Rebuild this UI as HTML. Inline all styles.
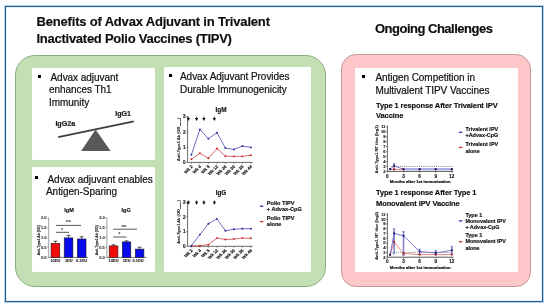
<!DOCTYPE html>
<html><head><meta charset="utf-8">
<style>
*{margin:0;padding:0;box-sizing:border-box}
html,body{width:550px;height:307px;overflow:hidden;background:#fff}
body{position:relative;font-family:"Liberation Sans",Arial,sans-serif;color:#111}
.abs{position:absolute}
#outer{left:5px;top:6px;width:538px;height:296px;border:1px solid #2e5d87;box-shadow:0 0 0 1px rgba(105,170,228,0.55),inset 0 0 0 1px rgba(150,200,240,0.3)}
.title{position:absolute;font-weight:bold;font-size:13px;line-height:16.7px;letter-spacing:-0.18px;white-space:nowrap;color:#0d0d0d;-webkit-text-stroke:0.15px #0d0d0d}
#green{left:15.3px;top:54.6px;width:310.7px;height:232.2px;background:#c5dfb4;border:1px solid #8aae82;border-radius:20px}
#red{left:341.3px;top:54.2px;width:189.8px;height:232.4px;background:#fec8ca;border:1px solid #c4979a;border-radius:15px}
.panel{position:absolute;background:#fff;border-radius:1.5px}
.btxt{position:absolute;font-size:10px;line-height:12.5px;letter-spacing:-0.05px;white-space:nowrap;color:#111;-webkit-text-stroke:0.2px #111}
.bul{position:absolute;width:3px;height:3px;background:#000}
.sub{position:absolute;font-weight:bold;font-size:7.5px;line-height:10.2px;letter-spacing:-0.1px;white-space:nowrap;color:#0d0d0d;-webkit-text-stroke:0.15px #0d0d0d}
svg{position:absolute;overflow:visible}
</style></head><body>
<div id="outer" class="abs"></div>
<div class="title" style="left:36.5px;top:14px">Benefits of Advax Adjuvant in Trivalent<br><span style="letter-spacing:-0.26px">Inactivated Polio Vaccines (TIPV)</span></div>
<div class="title" style="left:375px;top:21.4px;letter-spacing:-0.5px">Ongoing Challenges</div>

<div id="green" class="abs"></div>
<div id="red" class="abs"></div>

<div class="panel" style="left:31.7px;top:67.6px;width:123.8px;height:92.2px"></div>
<div class="panel" style="left:31.7px;top:167.4px;width:123.8px;height:104.6px"></div>
<div class="panel" style="left:163.8px;top:67.4px;width:147.3px;height:204.6px"></div>
<div class="panel" style="left:355.2px;top:67.6px;width:163.2px;height:204.4px"></div>

<!-- panel 1 -->
<div class="bul" style="left:37.6px;top:74.7px"></div>
<div class="btxt" style="left:50.5px;top:72px">Advax adjuvant</div>
<div class="btxt" style="left:49px;top:84px">enhances Th1<br>Immunity</div>

<!-- panel 2 -->
<div class="bul" style="left:35.2px;top:176.2px"></div>
<div class="btxt" style="left:47.5px;top:173.6px">Advax adjuvant enables<br><span style="margin-left:-1.5px">Antigen-Sparing</span></div>

<!-- panel 3 -->
<div class="bul" style="left:169.2px;top:74.3px"></div>
<div class="btxt" style="left:180px;top:71px">Advax Adjuvant Provides<br>Durable Immunogenicity</div>

<!-- red panel -->
<div class="bul" style="left:362px;top:75.1px"></div>
<div class="btxt" style="left:375.4px;top:72px;line-height:12.7px">Antigen Competition in<br>Multivalent TIPV Vaccines</div>
<div class="sub" style="left:376px;top:100.5px">Type 1 response After Trivalent IPV<br>Vaccine</div>
<div class="sub" style="left:376px;top:188.4px">Type 1 response After Type 1<br>Monovalent IPV Vaccine</div>

<svg width="550" height="307" viewBox="0 0 550 307" style="left:0;top:0;font-family:'Liberation Sans',Arial,sans-serif">
<line x1="58.2" y1="137.2" x2="133.8" y2="121.4" stroke="#3f3f3f" stroke-width="1.8" />
<polygon points="95.6,129.6 81.1,151 110.6,151" fill="#595959"/>
<text x="55.4" y="126.1" font-size="7.1" font-weight="bold" text-anchor="start" fill="#1a1a1a"  stroke="#1a1a1a" stroke-width="0.2">IgG2a</text>
<text x="115.3" y="115.7" font-size="7.1" font-weight="bold" text-anchor="start" fill="#1a1a1a"  stroke="#1a1a1a" stroke-width="0.2">IgG1</text>
<text x="69" y="211.9" font-size="5.5" font-weight="bold" text-anchor="middle" fill="#111"  stroke="#111" stroke-width="0.15">IgM</text>
<line x1="48.7" y1="217.6" x2="48.7" y2="257.4" stroke="#8a8a8a" stroke-width="0.8" />
<line x1="47.1" y1="257.4" x2="48.7" y2="257.4" stroke="#777" stroke-width="0.6" />
<text x="46.6" y="258.85" font-size="4.0" font-weight="bold" text-anchor="end" fill="#333" stroke="#333" stroke-width="0.1">0.0</text>
<line x1="47.1" y1="247.55" x2="48.7" y2="247.55" stroke="#777" stroke-width="0.6" />
<text x="46.6" y="249" font-size="4.0" font-weight="bold" text-anchor="end" fill="#333" stroke="#333" stroke-width="0.1">0.5</text>
<line x1="47.1" y1="237.7" x2="48.7" y2="237.7" stroke="#777" stroke-width="0.6" />
<text x="46.6" y="239.15" font-size="4.0" font-weight="bold" text-anchor="end" fill="#333" stroke="#333" stroke-width="0.1">1.0</text>
<line x1="47.1" y1="227.85" x2="48.7" y2="227.85" stroke="#777" stroke-width="0.6" />
<text x="46.6" y="229.3" font-size="4.0" font-weight="bold" text-anchor="end" fill="#333" stroke="#333" stroke-width="0.1">1.5</text>
<line x1="47.1" y1="218" x2="48.7" y2="218" stroke="#777" stroke-width="0.6" />
<text x="46.6" y="219.45" font-size="4.0" font-weight="bold" text-anchor="end" fill="#333" stroke="#333" stroke-width="0.1">2.0</text>
<line x1="48.7" y1="257.4" x2="88.2" y2="257.4" stroke="#666" stroke-width="0.9" />
<line x1="55.45" y1="243.4" x2="55.45" y2="241.2" stroke="#222" stroke-width="0.7" />
<line x1="53.55" y1="241.2" x2="57.35" y2="241.2" stroke="#222" stroke-width="0.8" />
<rect x="51.1" y="243.4" width="8.7" height="14" fill="#f50a0a" stroke="#1a1a1a" stroke-width="0.6"/>
<line x1="68.55" y1="237.9" x2="68.55" y2="235.4" stroke="#222" stroke-width="0.7" />
<line x1="66.65" y1="235.4" x2="70.45" y2="235.4" stroke="#222" stroke-width="0.8" />
<rect x="64.2" y="237.9" width="8.7" height="19.5" fill="#0a0aee" stroke="#1a1a1a" stroke-width="0.6"/>
<line x1="81.65" y1="239" x2="81.65" y2="236.8" stroke="#222" stroke-width="0.7" />
<line x1="79.75" y1="236.8" x2="83.55" y2="236.8" stroke="#222" stroke-width="0.8" />
<rect x="77.3" y="239" width="8.7" height="18.4" fill="#0a0aee" stroke="#1a1a1a" stroke-width="0.6"/>
<line x1="56" y1="225.4" x2="81.1" y2="225.4" stroke="#444" stroke-width="0.9" />
<text x="68.5" y="222.4" font-size="4.2" font-weight="bold" text-anchor="middle" fill="#444"  stroke="#444" stroke-width="0.1">ns</text>
<line x1="56" y1="232.3" x2="69.1" y2="232.3" stroke="#444" stroke-width="0.9" />
<text x="62.2" y="232.1" font-size="4.5" font-weight="bold" text-anchor="middle" fill="#444"  stroke="#444" stroke-width="0.1">*</text>
<text x="55.4" y="262.1" font-size="3.9" font-weight="bold" text-anchor="middle" fill="#222" stroke="#222" stroke-width="0.1">10DU</text>
<text x="68.8" y="262.1" font-size="3.9" font-weight="bold" text-anchor="middle" fill="#222" stroke="#222" stroke-width="0.1">1DU</text>
<text x="81.6" y="262.1" font-size="3.9" font-weight="bold" text-anchor="middle" fill="#222" stroke="#222" stroke-width="0.1">0.1DU</text>
<text transform="translate(40.4,240.2) rotate(-90)" font-size="3.3" font-weight="bold" text-anchor="middle" fill="#222" stroke="#222" stroke-width="0.12">Anti-Type1 Ab (OD)</text>
<text x="126.1" y="211.9" font-size="5.5" font-weight="bold" text-anchor="middle" fill="#111"  stroke="#111" stroke-width="0.15">IgG</text>
<line x1="106.9" y1="217.6" x2="106.9" y2="257.4" stroke="#8a8a8a" stroke-width="0.8" />
<line x1="105.3" y1="257.4" x2="106.9" y2="257.4" stroke="#777" stroke-width="0.6" />
<text x="104.8" y="258.85" font-size="4.0" font-weight="bold" text-anchor="end" fill="#333" stroke="#333" stroke-width="0.1">0.0</text>
<line x1="105.3" y1="247.55" x2="106.9" y2="247.55" stroke="#777" stroke-width="0.6" />
<text x="104.8" y="249" font-size="4.0" font-weight="bold" text-anchor="end" fill="#333" stroke="#333" stroke-width="0.1">0.5</text>
<line x1="105.3" y1="237.7" x2="106.9" y2="237.7" stroke="#777" stroke-width="0.6" />
<text x="104.8" y="239.15" font-size="4.0" font-weight="bold" text-anchor="end" fill="#333" stroke="#333" stroke-width="0.1">1.0</text>
<line x1="105.3" y1="227.85" x2="106.9" y2="227.85" stroke="#777" stroke-width="0.6" />
<text x="104.8" y="229.3" font-size="4.0" font-weight="bold" text-anchor="end" fill="#333" stroke="#333" stroke-width="0.1">1.5</text>
<line x1="105.3" y1="218" x2="106.9" y2="218" stroke="#777" stroke-width="0.6" />
<text x="104.8" y="219.45" font-size="4.0" font-weight="bold" text-anchor="end" fill="#333" stroke="#333" stroke-width="0.1">2.0</text>
<line x1="106.9" y1="257.4" x2="146.4" y2="257.4" stroke="#666" stroke-width="0.9" />
<line x1="113.55" y1="245.9" x2="113.55" y2="244.8" stroke="#222" stroke-width="0.7" />
<line x1="111.65" y1="244.8" x2="115.45" y2="244.8" stroke="#222" stroke-width="0.8" />
<rect x="109.2" y="245.9" width="8.7" height="11.5" fill="#f50a0a" stroke="#1a1a1a" stroke-width="0.6"/>
<line x1="126.55" y1="241.9" x2="126.55" y2="240.9" stroke="#222" stroke-width="0.7" />
<line x1="124.65" y1="240.9" x2="128.45" y2="240.9" stroke="#222" stroke-width="0.8" />
<rect x="122.3" y="241.9" width="8.5" height="15.5" fill="#0a0aee" stroke="#1a1a1a" stroke-width="0.6"/>
<line x1="139.6" y1="249.1" x2="139.6" y2="247.2" stroke="#222" stroke-width="0.7" />
<line x1="137.7" y1="247.2" x2="141.5" y2="247.2" stroke="#222" stroke-width="0.8" />
<rect x="135.3" y="249.1" width="8.6" height="8.3" fill="#0a0aee" stroke="#1a1a1a" stroke-width="0.6"/>
<line x1="113.3" y1="229.2" x2="137" y2="229.2" stroke="#444" stroke-width="0.9" />
<text x="123.9" y="227.3" font-size="4.2" font-weight="bold" text-anchor="middle" fill="#444"  stroke="#444" stroke-width="0.1">ns</text>
<line x1="113.3" y1="237" x2="126.6" y2="237" stroke="#444" stroke-width="0.9" />
<text x="119.5" y="235.6" font-size="4.5" font-weight="bold" text-anchor="middle" fill="#444"  stroke="#444" stroke-width="0.1">*</text>
<text x="113.5" y="262.1" font-size="3.9" font-weight="bold" text-anchor="middle" fill="#222" stroke="#222" stroke-width="0.1">10DU</text>
<text x="126.6" y="262.1" font-size="3.9" font-weight="bold" text-anchor="middle" fill="#222" stroke="#222" stroke-width="0.1">1DU</text>
<text x="138.1" y="262.1" font-size="3.9" font-weight="bold" text-anchor="middle" fill="#222" stroke="#222" stroke-width="0.1">0.1DU</text>
<text transform="translate(98,240.2) rotate(-90)" font-size="3.3" font-weight="bold" text-anchor="middle" fill="#222" stroke="#222" stroke-width="0.12">Anti-Type1 Ab (OD)</text>
<text x="221" y="111.5" font-size="6.4" font-weight="bold" text-anchor="middle" fill="#111" stroke="#111" stroke-width="0.15">IgM</text>
<line x1="187.6" y1="116.3" x2="187.6" y2="162.4" stroke="#444" stroke-width="0.8" />
<line x1="186.1" y1="162.4" x2="187.6" y2="162.4" stroke="#444" stroke-width="0.6" />
<text x="185.6" y="164" font-size="4.6" font-weight="bold" text-anchor="end" fill="#1a1a1a"  stroke="#1a1a1a" stroke-width="0.15">0</text>
<line x1="186.1" y1="147.2" x2="187.6" y2="147.2" stroke="#444" stroke-width="0.6" />
<text x="185.6" y="148.8" font-size="4.6" font-weight="bold" text-anchor="end" fill="#1a1a1a"  stroke="#1a1a1a" stroke-width="0.15">1</text>
<line x1="186.1" y1="132" x2="187.6" y2="132" stroke="#444" stroke-width="0.6" />
<text x="185.6" y="133.6" font-size="4.6" font-weight="bold" text-anchor="end" fill="#1a1a1a"  stroke="#1a1a1a" stroke-width="0.15">2</text>
<line x1="186.1" y1="116.8" x2="187.6" y2="116.8" stroke="#444" stroke-width="0.6" />
<text x="185.6" y="118.4" font-size="4.6" font-weight="bold" text-anchor="end" fill="#1a1a1a"  stroke="#1a1a1a" stroke-width="0.15">3</text>
<line x1="187.6" y1="162.4" x2="252.6" y2="162.4" stroke="#444" stroke-width="0.8" />
<line x1="191.4" y1="162.4" x2="191.4" y2="163.8" stroke="#444" stroke-width="0.6" />
<line x1="199.9" y1="162.4" x2="199.9" y2="163.8" stroke="#444" stroke-width="0.6" />
<line x1="208.4" y1="162.4" x2="208.4" y2="163.8" stroke="#444" stroke-width="0.6" />
<line x1="216.9" y1="162.4" x2="216.9" y2="163.8" stroke="#444" stroke-width="0.6" />
<line x1="225.4" y1="162.4" x2="225.4" y2="163.8" stroke="#444" stroke-width="0.6" />
<line x1="233.9" y1="162.4" x2="233.9" y2="163.8" stroke="#444" stroke-width="0.6" />
<line x1="242.4" y1="162.4" x2="242.4" y2="163.8" stroke="#444" stroke-width="0.6" />
<line x1="250.9" y1="162.4" x2="250.9" y2="163.8" stroke="#444" stroke-width="0.6" />
<text transform="translate(193,166.8) rotate(-45)" font-size="4.3" font-weight="bold" text-anchor="end" fill="#1a1a1a" stroke="#1a1a1a" stroke-width="0.15">Wk 2</text>
<text transform="translate(201.5,166.8) rotate(-45)" font-size="4.3" font-weight="bold" text-anchor="end" fill="#1a1a1a" stroke="#1a1a1a" stroke-width="0.15">Wk 4</text>
<text transform="translate(210,166.8) rotate(-45)" font-size="4.3" font-weight="bold" text-anchor="end" fill="#1a1a1a" stroke="#1a1a1a" stroke-width="0.15">Wk 8</text>
<text transform="translate(218.5,166.8) rotate(-45)" font-size="4.3" font-weight="bold" text-anchor="end" fill="#1a1a1a" stroke="#1a1a1a" stroke-width="0.15">Wk 12</text>
<text transform="translate(227,166.8) rotate(-45)" font-size="4.3" font-weight="bold" text-anchor="end" fill="#1a1a1a" stroke="#1a1a1a" stroke-width="0.15">Wk 26</text>
<text transform="translate(235.5,166.8) rotate(-45)" font-size="4.3" font-weight="bold" text-anchor="end" fill="#1a1a1a" stroke="#1a1a1a" stroke-width="0.15">Wk 30</text>
<text transform="translate(244,166.8) rotate(-45)" font-size="4.3" font-weight="bold" text-anchor="end" fill="#1a1a1a" stroke="#1a1a1a" stroke-width="0.15">Wk 35</text>
<text transform="translate(252.5,166.8) rotate(-45)" font-size="4.3" font-weight="bold" text-anchor="end" fill="#1a1a1a" stroke="#1a1a1a" stroke-width="0.15">Wk 44</text>
<polyline points="191.4,159.3 199.9,153.2 208.4,158.3 216.9,148.5 225.4,156.2 233.9,156.4 242.4,156.4 250.9,155.2" fill="none" stroke="#cc3a3a" stroke-width="0.75"/>
<circle cx="191.4" cy="159.3" r="0.95" fill="#cc2222"/>
<circle cx="199.9" cy="153.2" r="0.95" fill="#cc2222"/>
<circle cx="208.4" cy="158.3" r="0.95" fill="#cc2222"/>
<circle cx="216.9" cy="148.5" r="0.95" fill="#cc2222"/>
<circle cx="225.4" cy="156.2" r="0.95" fill="#cc2222"/>
<circle cx="233.9" cy="156.4" r="0.95" fill="#cc2222"/>
<circle cx="242.4" cy="156.4" r="0.95" fill="#cc2222"/>
<circle cx="250.9" cy="155.2" r="0.95" fill="#cc2222"/>
<polyline points="191.4,154.8 199.9,129.4 208.4,138.7 216.9,132.7 225.4,148 233.9,149.5 242.4,146 250.9,147.4" fill="none" stroke="#3c3cb8" stroke-width="0.75"/>
<circle cx="191.4" cy="154.8" r="0.95" fill="#2a2a9a"/>
<circle cx="199.9" cy="129.4" r="0.95" fill="#2a2a9a"/>
<circle cx="208.4" cy="138.7" r="0.95" fill="#2a2a9a"/>
<circle cx="216.9" cy="132.7" r="0.95" fill="#2a2a9a"/>
<circle cx="225.4" cy="148" r="0.95" fill="#2a2a9a"/>
<circle cx="233.9" cy="149.5" r="0.95" fill="#2a2a9a"/>
<circle cx="242.4" cy="146" r="0.95" fill="#2a2a9a"/>
<circle cx="250.9" cy="147.4" r="0.95" fill="#2a2a9a"/>
<line x1="188.4" y1="116.6" x2="188.4" y2="119.1" stroke="#111" stroke-width="0.8" />
<polygon points="186.7,118 190.1,118 188.4,121" fill="#111"/>
<line x1="196.6" y1="116.6" x2="196.6" y2="119.1" stroke="#111" stroke-width="0.8" />
<polygon points="194.9,118 198.3,118 196.6,121" fill="#111"/>
<line x1="203.9" y1="116.6" x2="203.9" y2="119.1" stroke="#111" stroke-width="0.8" />
<polygon points="202.2,118 205.6,118 203.9,121" fill="#111"/>
<line x1="214.4" y1="116.6" x2="214.4" y2="119.1" stroke="#111" stroke-width="0.8" />
<polygon points="212.7,118 216.1,118 214.4,121" fill="#111"/>
<text transform="translate(180.0,139.4) rotate(-90)" font-size="3.95" font-weight="bold" text-anchor="middle" fill="#222" stroke="#222" stroke-width="0.1">Anti-Type1 Ab (OD<tspan font-size="2.4" dy="0.8">405nm</tspan><tspan dy="-0.8">)</tspan></text>
<text x="221" y="195.3" font-size="6.4" font-weight="bold" text-anchor="middle" fill="#111" stroke="#111" stroke-width="0.15">IgG</text>
<line x1="187.6" y1="201.7" x2="187.6" y2="246.3" stroke="#444" stroke-width="0.8" />
<line x1="186.1" y1="246.3" x2="187.6" y2="246.3" stroke="#444" stroke-width="0.6" />
<text x="185.6" y="247.9" font-size="4.6" font-weight="bold" text-anchor="end" fill="#1a1a1a"  stroke="#1a1a1a" stroke-width="0.15">0</text>
<line x1="186.1" y1="231.6" x2="187.6" y2="231.6" stroke="#444" stroke-width="0.6" />
<text x="185.6" y="233.2" font-size="4.6" font-weight="bold" text-anchor="end" fill="#1a1a1a"  stroke="#1a1a1a" stroke-width="0.15">1</text>
<line x1="186.1" y1="216.9" x2="187.6" y2="216.9" stroke="#444" stroke-width="0.6" />
<text x="185.6" y="218.5" font-size="4.6" font-weight="bold" text-anchor="end" fill="#1a1a1a"  stroke="#1a1a1a" stroke-width="0.15">2</text>
<line x1="186.1" y1="202.2" x2="187.6" y2="202.2" stroke="#444" stroke-width="0.6" />
<text x="185.6" y="203.8" font-size="4.6" font-weight="bold" text-anchor="end" fill="#1a1a1a"  stroke="#1a1a1a" stroke-width="0.15">3</text>
<line x1="187.6" y1="246.3" x2="252.6" y2="246.3" stroke="#444" stroke-width="0.8" />
<line x1="191.4" y1="246.3" x2="191.4" y2="247.7" stroke="#444" stroke-width="0.6" />
<line x1="199.9" y1="246.3" x2="199.9" y2="247.7" stroke="#444" stroke-width="0.6" />
<line x1="208.4" y1="246.3" x2="208.4" y2="247.7" stroke="#444" stroke-width="0.6" />
<line x1="216.9" y1="246.3" x2="216.9" y2="247.7" stroke="#444" stroke-width="0.6" />
<line x1="225.4" y1="246.3" x2="225.4" y2="247.7" stroke="#444" stroke-width="0.6" />
<line x1="233.9" y1="246.3" x2="233.9" y2="247.7" stroke="#444" stroke-width="0.6" />
<line x1="242.4" y1="246.3" x2="242.4" y2="247.7" stroke="#444" stroke-width="0.6" />
<line x1="250.9" y1="246.3" x2="250.9" y2="247.7" stroke="#444" stroke-width="0.6" />
<text transform="translate(193,250.7) rotate(-45)" font-size="4.3" font-weight="bold" text-anchor="end" fill="#1a1a1a" stroke="#1a1a1a" stroke-width="0.15">Wk 2</text>
<text transform="translate(201.5,250.7) rotate(-45)" font-size="4.3" font-weight="bold" text-anchor="end" fill="#1a1a1a" stroke="#1a1a1a" stroke-width="0.15">Wk 4</text>
<text transform="translate(210,250.7) rotate(-45)" font-size="4.3" font-weight="bold" text-anchor="end" fill="#1a1a1a" stroke="#1a1a1a" stroke-width="0.15">Wk 8</text>
<text transform="translate(218.5,250.7) rotate(-45)" font-size="4.3" font-weight="bold" text-anchor="end" fill="#1a1a1a" stroke="#1a1a1a" stroke-width="0.15">Wk 12</text>
<text transform="translate(227,250.7) rotate(-45)" font-size="4.3" font-weight="bold" text-anchor="end" fill="#1a1a1a" stroke="#1a1a1a" stroke-width="0.15">Wk 26</text>
<text transform="translate(235.5,250.7) rotate(-45)" font-size="4.3" font-weight="bold" text-anchor="end" fill="#1a1a1a" stroke="#1a1a1a" stroke-width="0.15">Wk 30</text>
<text transform="translate(244,250.7) rotate(-45)" font-size="4.3" font-weight="bold" text-anchor="end" fill="#1a1a1a" stroke="#1a1a1a" stroke-width="0.15">Wk 35</text>
<text transform="translate(252.5,250.7) rotate(-45)" font-size="4.3" font-weight="bold" text-anchor="end" fill="#1a1a1a" stroke="#1a1a1a" stroke-width="0.15">Wk 44</text>
<polyline points="191.4,246 199.9,245.7 208.4,244.7 216.9,238.1 225.4,239.5 233.9,239.1 242.4,238.1 250.9,238.3" fill="none" stroke="#cc3a3a" stroke-width="0.75"/>
<circle cx="191.4" cy="246" r="0.95" fill="#cc2222"/>
<circle cx="199.9" cy="245.7" r="0.95" fill="#cc2222"/>
<circle cx="208.4" cy="244.7" r="0.95" fill="#cc2222"/>
<circle cx="216.9" cy="238.1" r="0.95" fill="#cc2222"/>
<circle cx="225.4" cy="239.5" r="0.95" fill="#cc2222"/>
<circle cx="233.9" cy="239.1" r="0.95" fill="#cc2222"/>
<circle cx="242.4" cy="238.1" r="0.95" fill="#cc2222"/>
<circle cx="250.9" cy="238.3" r="0.95" fill="#cc2222"/>
<polyline points="191.4,245.7 199.9,234.6 208.4,223.8 216.9,218.9 225.4,230.7 233.9,229.3 242.4,228.7 250.9,228.7" fill="none" stroke="#3c3cb8" stroke-width="0.75"/>
<circle cx="191.4" cy="245.7" r="0.95" fill="#2a2a9a"/>
<circle cx="199.9" cy="234.6" r="0.95" fill="#2a2a9a"/>
<circle cx="208.4" cy="223.8" r="0.95" fill="#2a2a9a"/>
<circle cx="216.9" cy="218.9" r="0.95" fill="#2a2a9a"/>
<circle cx="225.4" cy="230.7" r="0.95" fill="#2a2a9a"/>
<circle cx="233.9" cy="229.3" r="0.95" fill="#2a2a9a"/>
<circle cx="242.4" cy="228.7" r="0.95" fill="#2a2a9a"/>
<circle cx="250.9" cy="228.7" r="0.95" fill="#2a2a9a"/>
<line x1="188.4" y1="200.4" x2="188.4" y2="202.9" stroke="#111" stroke-width="0.8" />
<polygon points="186.7,201.8 190.1,201.8 188.4,204.8" fill="#111"/>
<line x1="196.6" y1="200.4" x2="196.6" y2="202.9" stroke="#111" stroke-width="0.8" />
<polygon points="194.9,201.8 198.3,201.8 196.6,204.8" fill="#111"/>
<line x1="203.9" y1="200.4" x2="203.9" y2="202.9" stroke="#111" stroke-width="0.8" />
<polygon points="202.2,201.8 205.6,201.8 203.9,204.8" fill="#111"/>
<line x1="214.4" y1="200.4" x2="214.4" y2="202.9" stroke="#111" stroke-width="0.8" />
<polygon points="212.7,201.8 216.1,201.8 214.4,204.8" fill="#111"/>
<text transform="translate(180.0,222) rotate(-90)" font-size="3.95" font-weight="bold" text-anchor="middle" fill="#222" stroke="#222" stroke-width="0.1">Anti-Type1 Ab (OD<tspan font-size="2.4" dy="0.8">405nm</tspan><tspan dy="-0.8">)</tspan></text>
<line x1="259.6" y1="206.2" x2="263.6" y2="206.2" stroke="#3c3cb8" stroke-width="0.8" />
<circle cx="261.6" cy="206.2" r="0.9" fill="#2a2a9a"/>
<line x1="259.6" y1="221.6" x2="263.6" y2="221.6" stroke="#cc3a3a" stroke-width="0.8" />
<circle cx="261.6" cy="221.6" r="0.9" fill="#cc2222"/>
<text x="266.8" y="204.7" font-size="5.6" font-weight="bold" text-anchor="start" fill="#111"  stroke="#111" stroke-width="0.16">Polio TIPV</text>
<text x="266.8" y="211" font-size="5.6" font-weight="bold" text-anchor="start" fill="#111"  stroke="#111" stroke-width="0.16">+ Advax-CpG</text>
<text x="266.8" y="220.1" font-size="5.6" font-weight="bold" text-anchor="start" fill="#111"  stroke="#111" stroke-width="0.16">Polio TIPV</text>
<text x="266.8" y="226.4" font-size="5.6" font-weight="bold" text-anchor="start" fill="#111"  stroke="#111" stroke-width="0.16">alone</text>
<line x1="387.4" y1="125.37" x2="387.4" y2="171.4" stroke="#444" stroke-width="0.8" />
<line x1="386" y1="171.4" x2="387.4" y2="171.4" stroke="#444" stroke-width="0.6" />
<text x="385.5" y="172.9" font-size="4.1" font-weight="bold" text-anchor="end" fill="#1a1a1a" stroke="#1a1a1a" stroke-width="0.14">2</text>
<line x1="386" y1="166.45" x2="387.4" y2="166.45" stroke="#444" stroke-width="0.6" />
<text x="385.5" y="167.95" font-size="4.1" font-weight="bold" text-anchor="end" fill="#1a1a1a" stroke="#1a1a1a" stroke-width="0.14">3</text>
<line x1="386" y1="161.5" x2="387.4" y2="161.5" stroke="#444" stroke-width="0.6" />
<text x="385.5" y="163" font-size="4.1" font-weight="bold" text-anchor="end" fill="#1a1a1a" stroke="#1a1a1a" stroke-width="0.14">4</text>
<line x1="386" y1="156.55" x2="387.4" y2="156.55" stroke="#444" stroke-width="0.6" />
<text x="385.5" y="158.05" font-size="4.1" font-weight="bold" text-anchor="end" fill="#1a1a1a" stroke="#1a1a1a" stroke-width="0.14">5</text>
<line x1="386" y1="151.6" x2="387.4" y2="151.6" stroke="#444" stroke-width="0.6" />
<text x="385.5" y="153.1" font-size="4.1" font-weight="bold" text-anchor="end" fill="#1a1a1a" stroke="#1a1a1a" stroke-width="0.14">6</text>
<line x1="386" y1="146.65" x2="387.4" y2="146.65" stroke="#444" stroke-width="0.6" />
<text x="385.5" y="148.15" font-size="4.1" font-weight="bold" text-anchor="end" fill="#1a1a1a" stroke="#1a1a1a" stroke-width="0.14">7</text>
<line x1="386" y1="141.7" x2="387.4" y2="141.7" stroke="#444" stroke-width="0.6" />
<text x="385.5" y="143.2" font-size="4.1" font-weight="bold" text-anchor="end" fill="#1a1a1a" stroke="#1a1a1a" stroke-width="0.14">8</text>
<line x1="386" y1="136.75" x2="387.4" y2="136.75" stroke="#444" stroke-width="0.6" />
<text x="385.5" y="138.25" font-size="4.1" font-weight="bold" text-anchor="end" fill="#1a1a1a" stroke="#1a1a1a" stroke-width="0.14">9</text>
<line x1="386" y1="131.8" x2="387.4" y2="131.8" stroke="#444" stroke-width="0.6" />
<text x="385.5" y="133.3" font-size="4.1" font-weight="bold" text-anchor="end" fill="#1a1a1a" stroke="#1a1a1a" stroke-width="0.14">10</text>
<line x1="386" y1="126.85" x2="387.4" y2="126.85" stroke="#444" stroke-width="0.6" />
<text x="385.5" y="128.35" font-size="4.1" font-weight="bold" text-anchor="end" fill="#1a1a1a" stroke="#1a1a1a" stroke-width="0.14">11</text>
<line x1="387.4" y1="171.4" x2="453.45" y2="171.4" stroke="#444" stroke-width="0.9" />
<line x1="387.4" y1="171.4" x2="387.4" y2="172.7" stroke="#444" stroke-width="0.6" />
<text x="387.4" y="177.6" font-size="4.6" font-weight="bold" text-anchor="middle" fill="#1a1a1a" stroke="#1a1a1a" stroke-width="0.15">0</text>
<line x1="403.51" y1="171.4" x2="403.51" y2="172.7" stroke="#444" stroke-width="0.6" />
<text x="403.51" y="177.6" font-size="4.6" font-weight="bold" text-anchor="middle" fill="#1a1a1a" stroke="#1a1a1a" stroke-width="0.15">3</text>
<line x1="419.62" y1="171.4" x2="419.62" y2="172.7" stroke="#444" stroke-width="0.6" />
<text x="419.62" y="177.6" font-size="4.6" font-weight="bold" text-anchor="middle" fill="#1a1a1a" stroke="#1a1a1a" stroke-width="0.15">6</text>
<line x1="435.73" y1="171.4" x2="435.73" y2="172.7" stroke="#444" stroke-width="0.6" />
<text x="435.73" y="177.6" font-size="4.6" font-weight="bold" text-anchor="middle" fill="#1a1a1a" stroke="#1a1a1a" stroke-width="0.15">9</text>
<line x1="451.84" y1="171.4" x2="451.84" y2="172.7" stroke="#444" stroke-width="0.6" />
<text x="451.84" y="177.6" font-size="4.6" font-weight="bold" text-anchor="middle" fill="#1a1a1a" stroke="#1a1a1a" stroke-width="0.15">12</text>
<text x="420.22" y="182.9" font-size="4.22" font-weight="bold" text-anchor="middle" fill="#111" stroke="#111" stroke-width="0.2">Months after 1st immunization</text>
<text transform="translate(377.8,149.12) rotate(-90)" font-size="4.05" font-weight="bold" text-anchor="middle" fill="#222" stroke="#222" stroke-width="0.12">Anti-Type1 NT titer (log2)</text>
<line x1="390.62" y1="166.45" x2="452.91" y2="166.45" stroke="#333" stroke-width="0.8" stroke-dasharray="0.7 1.2"/>
<line x1="394.11" y1="169.42" x2="394.11" y2="166.2" stroke="#e49090" stroke-width="1.5" />
<line x1="392.81" y1="166.2" x2="395.41" y2="166.2" stroke="#e49090" stroke-width="0.8" />
<polyline points="390.08,169.17 394.11,169.42 403.51,169.42 419.62,169.42 435.73,169.42 451.84,169.42" fill="none" stroke="#dc5c5c" stroke-width="0.75"/>
<line x1="394.11" y1="165.96" x2="394.11" y2="163.48" stroke="#7c7cc8" stroke-width="1.5" />
<line x1="392.81" y1="163.48" x2="395.41" y2="163.48" stroke="#7c7cc8" stroke-width="0.8" />
<polyline points="390.08,169.17 394.11,165.96 403.51,169.17 419.62,169.17 435.73,169.17 451.84,169.17" fill="none" stroke="#5050c2" stroke-width="0.75"/>
<line x1="403.51" y1="169.32" x2="451.84" y2="169.32" stroke="#a6a6e8" stroke-width="1.9" />
<circle cx="390.08" cy="169.17" r="1.1" fill="#a01c1c"/>
<circle cx="394.11" cy="169.42" r="1.1" fill="#a01c1c"/>
<circle cx="403.51" cy="169.42" r="1.1" fill="#a01c1c"/>
<circle cx="419.62" cy="169.42" r="1.1" fill="#a01c1c"/>
<circle cx="435.73" cy="169.42" r="1.1" fill="#a01c1c"/>
<circle cx="451.84" cy="169.42" r="1.1" fill="#a01c1c"/>
<circle cx="390.08" cy="169.17" r="1.1" fill="#1c1c72"/>
<circle cx="394.11" cy="165.96" r="1.1" fill="#1c1c72"/>
<circle cx="403.51" cy="169.17" r="1.1" fill="#1c1c72"/>
<circle cx="419.62" cy="169.17" r="1.1" fill="#1c1c72"/>
<circle cx="435.73" cy="169.17" r="1.1" fill="#1c1c72"/>
<circle cx="451.84" cy="169.17" r="1.1" fill="#1c1c72"/>
<line x1="387.4" y1="213.02" x2="387.4" y2="257.2" stroke="#444" stroke-width="0.8" />
<line x1="386" y1="257.2" x2="387.4" y2="257.2" stroke="#444" stroke-width="0.6" />
<text x="385.5" y="258.7" font-size="4.1" font-weight="bold" text-anchor="end" fill="#1a1a1a" stroke="#1a1a1a" stroke-width="0.14">2</text>
<line x1="386" y1="252.45" x2="387.4" y2="252.45" stroke="#444" stroke-width="0.6" />
<text x="385.5" y="253.95" font-size="4.1" font-weight="bold" text-anchor="end" fill="#1a1a1a" stroke="#1a1a1a" stroke-width="0.14">3</text>
<line x1="386" y1="247.7" x2="387.4" y2="247.7" stroke="#444" stroke-width="0.6" />
<text x="385.5" y="249.2" font-size="4.1" font-weight="bold" text-anchor="end" fill="#1a1a1a" stroke="#1a1a1a" stroke-width="0.14">4</text>
<line x1="386" y1="242.95" x2="387.4" y2="242.95" stroke="#444" stroke-width="0.6" />
<text x="385.5" y="244.45" font-size="4.1" font-weight="bold" text-anchor="end" fill="#1a1a1a" stroke="#1a1a1a" stroke-width="0.14">5</text>
<line x1="386" y1="238.2" x2="387.4" y2="238.2" stroke="#444" stroke-width="0.6" />
<text x="385.5" y="239.7" font-size="4.1" font-weight="bold" text-anchor="end" fill="#1a1a1a" stroke="#1a1a1a" stroke-width="0.14">6</text>
<line x1="386" y1="233.45" x2="387.4" y2="233.45" stroke="#444" stroke-width="0.6" />
<text x="385.5" y="234.95" font-size="4.1" font-weight="bold" text-anchor="end" fill="#1a1a1a" stroke="#1a1a1a" stroke-width="0.14">7</text>
<line x1="386" y1="228.7" x2="387.4" y2="228.7" stroke="#444" stroke-width="0.6" />
<text x="385.5" y="230.2" font-size="4.1" font-weight="bold" text-anchor="end" fill="#1a1a1a" stroke="#1a1a1a" stroke-width="0.14">8</text>
<line x1="386" y1="223.95" x2="387.4" y2="223.95" stroke="#444" stroke-width="0.6" />
<text x="385.5" y="225.45" font-size="4.1" font-weight="bold" text-anchor="end" fill="#1a1a1a" stroke="#1a1a1a" stroke-width="0.14">9</text>
<line x1="386" y1="219.2" x2="387.4" y2="219.2" stroke="#444" stroke-width="0.6" />
<text x="385.5" y="220.7" font-size="4.1" font-weight="bold" text-anchor="end" fill="#1a1a1a" stroke="#1a1a1a" stroke-width="0.14">10</text>
<line x1="386" y1="214.45" x2="387.4" y2="214.45" stroke="#444" stroke-width="0.6" />
<text x="385.5" y="215.95" font-size="4.1" font-weight="bold" text-anchor="end" fill="#1a1a1a" stroke="#1a1a1a" stroke-width="0.14">11</text>
<line x1="387.4" y1="257.2" x2="453.45" y2="257.2" stroke="#444" stroke-width="0.9" />
<line x1="387.4" y1="257.2" x2="387.4" y2="258.5" stroke="#444" stroke-width="0.6" />
<text x="387.4" y="263.2" font-size="4.6" font-weight="bold" text-anchor="middle" fill="#1a1a1a" stroke="#1a1a1a" stroke-width="0.15">0</text>
<line x1="403.51" y1="257.2" x2="403.51" y2="258.5" stroke="#444" stroke-width="0.6" />
<text x="403.51" y="263.2" font-size="4.6" font-weight="bold" text-anchor="middle" fill="#1a1a1a" stroke="#1a1a1a" stroke-width="0.15">3</text>
<line x1="419.62" y1="257.2" x2="419.62" y2="258.5" stroke="#444" stroke-width="0.6" />
<text x="419.62" y="263.2" font-size="4.6" font-weight="bold" text-anchor="middle" fill="#1a1a1a" stroke="#1a1a1a" stroke-width="0.15">6</text>
<line x1="435.73" y1="257.2" x2="435.73" y2="258.5" stroke="#444" stroke-width="0.6" />
<text x="435.73" y="263.2" font-size="4.6" font-weight="bold" text-anchor="middle" fill="#1a1a1a" stroke="#1a1a1a" stroke-width="0.15">9</text>
<line x1="451.84" y1="257.2" x2="451.84" y2="258.5" stroke="#444" stroke-width="0.6" />
<text x="451.84" y="263.2" font-size="4.6" font-weight="bold" text-anchor="middle" fill="#1a1a1a" stroke="#1a1a1a" stroke-width="0.15">12</text>
<text x="420.22" y="268.5" font-size="4.22" font-weight="bold" text-anchor="middle" fill="#111" stroke="#111" stroke-width="0.2">Months after 1st immunization</text>
<text transform="translate(377.8,235.82) rotate(-90)" font-size="4.05" font-weight="bold" text-anchor="middle" fill="#222" stroke="#222" stroke-width="0.12">Anti-Type1 NT titer (log2)</text>
<line x1="390.62" y1="252.45" x2="452.91" y2="252.45" stroke="#333" stroke-width="0.8" stroke-dasharray="0.7 1.2"/>
<line x1="394.11" y1="244.85" x2="394.11" y2="239.15" stroke="#e49090" stroke-width="1.5" />
<line x1="392.81" y1="239.15" x2="395.41" y2="239.15" stroke="#e49090" stroke-width="0.8" />
<line x1="392.81" y1="244.85" x2="395.41" y2="244.85" stroke="#e49090" stroke-width="0.8" />
<line x1="403.51" y1="254.35" x2="403.51" y2="252.45" stroke="#e49090" stroke-width="1.5" />
<line x1="402.21" y1="252.45" x2="404.81" y2="252.45" stroke="#e49090" stroke-width="0.8" />
<line x1="402.21" y1="254.35" x2="404.81" y2="254.35" stroke="#e49090" stroke-width="0.8" />
<polyline points="390.08,254.82 394.11,242 403.51,253.4 419.62,254.59 435.73,254.59 451.84,254.59" fill="none" stroke="#dc5c5c" stroke-width="0.75"/>
<line x1="394.11" y1="253.88" x2="394.11" y2="228.7" stroke="#7c7cc8" stroke-width="1.5" />
<line x1="392.81" y1="228.7" x2="395.41" y2="228.7" stroke="#7c7cc8" stroke-width="0.8" />
<line x1="392.81" y1="253.88" x2="395.41" y2="253.88" stroke="#7c7cc8" stroke-width="0.8" />
<line x1="403.51" y1="255.3" x2="403.51" y2="231.55" stroke="#7c7cc8" stroke-width="1.5" />
<line x1="402.21" y1="231.55" x2="404.81" y2="231.55" stroke="#7c7cc8" stroke-width="0.8" />
<line x1="402.21" y1="255.3" x2="404.81" y2="255.3" stroke="#7c7cc8" stroke-width="0.8" />
<line x1="419.62" y1="253.88" x2="419.62" y2="249.12" stroke="#7c7cc8" stroke-width="1.5" />
<line x1="418.32" y1="249.12" x2="420.92" y2="249.12" stroke="#7c7cc8" stroke-width="0.8" />
<line x1="418.32" y1="253.88" x2="420.92" y2="253.88" stroke="#7c7cc8" stroke-width="0.8" />
<line x1="435.73" y1="254.82" x2="435.73" y2="250.55" stroke="#7c7cc8" stroke-width="1.5" />
<line x1="434.43" y1="250.55" x2="437.03" y2="250.55" stroke="#7c7cc8" stroke-width="0.8" />
<line x1="434.43" y1="254.82" x2="437.03" y2="254.82" stroke="#7c7cc8" stroke-width="0.8" />
<line x1="451.84" y1="253.4" x2="451.84" y2="246.27" stroke="#7c7cc8" stroke-width="1.5" />
<line x1="450.54" y1="246.27" x2="453.14" y2="246.27" stroke="#7c7cc8" stroke-width="0.8" />
<line x1="450.54" y1="253.4" x2="453.14" y2="253.4" stroke="#7c7cc8" stroke-width="0.8" />
<polyline points="390.08,254.82 394.11,233.45 403.51,235.82 419.62,251.5 435.73,252.92 451.84,250.31" fill="none" stroke="#5050c2" stroke-width="0.75"/>
<circle cx="390.08" cy="254.82" r="1.1" fill="#a01c1c"/>
<circle cx="394.11" cy="242" r="1.1" fill="#a01c1c"/>
<circle cx="403.51" cy="253.4" r="1.1" fill="#a01c1c"/>
<circle cx="419.62" cy="254.59" r="1.1" fill="#a01c1c"/>
<circle cx="435.73" cy="254.59" r="1.1" fill="#a01c1c"/>
<circle cx="451.84" cy="254.59" r="1.1" fill="#a01c1c"/>
<circle cx="390.08" cy="254.82" r="1.1" fill="#1c1c72"/>
<circle cx="394.11" cy="233.45" r="1.1" fill="#1c1c72"/>
<circle cx="403.51" cy="235.82" r="1.1" fill="#1c1c72"/>
<circle cx="419.62" cy="251.5" r="1.1" fill="#1c1c72"/>
<circle cx="435.73" cy="252.92" r="1.1" fill="#1c1c72"/>
<circle cx="451.84" cy="250.31" r="1.1" fill="#1c1c72"/>
<line x1="458.6" y1="132.3" x2="462.6" y2="132.3" stroke="#3c3cb8" stroke-width="0.8" />
<circle cx="460.6" cy="132.3" r="0.9" fill="#2a2a9a"/>
<line x1="458.6" y1="147.4" x2="462.6" y2="147.4" stroke="#cc3a3a" stroke-width="0.8" />
<circle cx="460.6" cy="147.4" r="0.9" fill="#cc2222"/>
<text x="465.5" y="130.7" font-size="5.45" font-weight="bold" text-anchor="start" fill="#111"  stroke="#111" stroke-width="0.16">Trivalent IPV</text>
<text x="465.5" y="137.3" font-size="5.45" font-weight="bold" text-anchor="start" fill="#111"  stroke="#111" stroke-width="0.16">+Advax-CpG</text>
<text x="465.5" y="146.1" font-size="5.45" font-weight="bold" text-anchor="start" fill="#111"  stroke="#111" stroke-width="0.16">Trivalent IPV</text>
<text x="465.5" y="152.7" font-size="5.45" font-weight="bold" text-anchor="start" fill="#111"  stroke="#111" stroke-width="0.16">alone</text>

<line x1="458.6" y1="220.8" x2="462.6" y2="220.8" stroke="#3c3cb8" stroke-width="0.8" />
<circle cx="460.6" cy="220.8" r="0.9" fill="#2a2a9a"/>
<line x1="458.6" y1="241.7" x2="462.6" y2="241.7" stroke="#cc3a3a" stroke-width="0.8" />
<circle cx="460.6" cy="241.7" r="0.9" fill="#cc2222"/>
<text x="465.4" y="216.5" font-size="5.45" font-weight="bold" text-anchor="start" fill="#111"  stroke="#111" stroke-width="0.16">Type 1</text>
<text x="465.4" y="222.65" font-size="5.45" font-weight="bold" text-anchor="start" fill="#111"  stroke="#111" stroke-width="0.16">Monovalent IPV</text>
<text x="465.4" y="228.8" font-size="5.45" font-weight="bold" text-anchor="start" fill="#111"  stroke="#111" stroke-width="0.16">+ Advax-CpG</text>
<text x="465.4" y="237.1" font-size="5.45" font-weight="bold" text-anchor="start" fill="#111"  stroke="#111" stroke-width="0.16">Type 1</text>
<text x="465.4" y="243.4" font-size="5.45" font-weight="bold" text-anchor="start" fill="#111"  stroke="#111" stroke-width="0.16">Monovalent IPV</text>
<text x="465.4" y="249.7" font-size="5.45" font-weight="bold" text-anchor="start" fill="#111"  stroke="#111" stroke-width="0.16">alone</text>
</svg>
</body></html>
